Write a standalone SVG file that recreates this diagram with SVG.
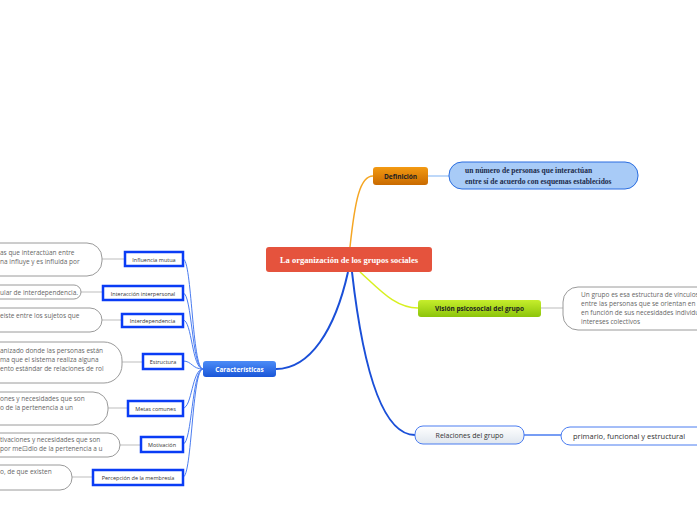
<svg xmlns="http://www.w3.org/2000/svg" width="697" height="520" viewBox="0 0 697 520">
<defs>
<linearGradient id="gOr" x1="0" y1="0" x2="0" y2="1"><stop offset="0" stop-color="#f39a12"/><stop offset="1" stop-color="#c96a00"/></linearGradient>
<linearGradient id="gBl" x1="0" y1="0" x2="0" y2="1"><stop offset="0" stop-color="#4c8cf7"/><stop offset="1" stop-color="#1a56d8"/></linearGradient>
<linearGradient id="gYg" x1="0" y1="0" x2="0" y2="1"><stop offset="0" stop-color="#c6ee2c"/><stop offset="1" stop-color="#8cc40a"/></linearGradient>
<linearGradient id="gRel" x1="0" y1="0" x2="0" y2="1"><stop offset="0" stop-color="#ffffff"/><stop offset="1" stop-color="#dfe6ee"/></linearGradient>
</defs>
<style>
.s{font-family:"Open Sans","Liberation Sans",sans-serif;font-size:6.5px;fill:#333}
.l{font-family:"Open Sans","Liberation Sans",sans-serif;font-size:6.5px;fill:#666}
.c{fill:#fff;stroke:#0a3cf5;stroke-width:2.5}
.p{fill:#fff;stroke:#9a9a9a;stroke-width:1}
.k{fill:none;stroke:#4a7cf0;stroke-width:1}
.g{fill:none;stroke:#c8c8c8;stroke-width:1.2}
</style>
<g id="connectors">
<path d="M350 247 C355 200 360 176 373 176" fill="none" stroke="#f5a623" stroke-width="1.5"/>
<path d="M360 272 C380 290 395 308 418 308" fill="none" stroke="#d8f020" stroke-width="1.5"/>
<path d="M352 272 C362 360 380 435 415 435" fill="none" stroke="#1a4fd8" stroke-width="2"/>
<path d="M348 272 C335 330 310 369 276 369" fill="none" stroke="#1a4fd8" stroke-width="2"/>
<path class="k" d="M203 369 C192 369 192 259 183 259"/>
<path class="k" d="M203 369 C192 369 192 293 183 293"/>
<path class="k" d="M203 369 C192 369 192 320 183 320"/>
<path class="k" d="M203 369 C192 369 192 361 183 361"/>
<path class="k" d="M203 369 C192 369 192 408 183 408"/>
<path class="k" d="M203 369 C192 369 192 444 183 444"/>
<path class="k" d="M203 369 C192 369 192 477 183 477"/>
<path d="M428 176 H449" stroke="#a8cbf7" stroke-width="1.5"/>
<path d="M541 308 H563" stroke="#bbb" stroke-width="1"/>
<path d="M524 435 H561" stroke="#4a7cf0" stroke-width="1.5"/>
<path class="g" d="M102 259 H125"/>
<path class="g" d="M81 292 H103"/>
<path class="g" d="M102 320 H122"/>
<path class="g" d="M122 362 H143"/>
<path class="g" d="M108 408 H128"/>
<path class="g" d="M120 445 H141"/>
<path class="g" d="M72 477 H93"/>
</g>
<g id="central"><rect x="266" y="247" width="166" height="25" rx="3" fill="#e5533d"/><text x="349" y="263" text-anchor="middle" font-family="Liberation Serif,serif" font-weight="bold" font-size="8.5" fill="#fff">La organización de los grupos sociales</text></g>
<g id="definicion"><rect x="373" y="167" width="55" height="18" rx="3" fill="url(#gOr)"/><text x="400.5" y="179" text-anchor="middle" class="s" font-weight="bold" fill="#222" style="fill:#222">Definición</text></g>
<g id="def-leaf"><rect x="449" y="162" width="189" height="27" rx="13" fill="#a8cbf7" stroke="#2a6de0"/><text font-family="Liberation Serif,serif" font-weight="bold" font-size="7.5" fill="#1b2a4a"><tspan x="465" y="173">un número de personas que interactúan</tspan><tspan x="465" y="184">entre sí de acuerdo con esquemas establecidos</tspan></text></g>
<g id="vision"><rect x="418" y="300" width="123" height="17" rx="3" fill="url(#gYg)"/><text x="479.5" y="311" text-anchor="middle" class="s" font-weight="bold" style="fill:#222">Visión psicosocial del grupo</text></g>
<g id="vision-leaf"><rect x="563" y="287" width="150" height="43" rx="15" class="p"/><text class="l" font-size="6"><tspan x="581" y="297">Un grupo es esa estructura de vínculos</tspan><tspan x="581" y="306">entre las personas que se orientan en c</tspan><tspan x="581" y="315">en función de sus necesidades individu</tspan><tspan x="581" y="324">intereses colectivos</tspan></text></g>
<g id="relaciones"><rect x="415" y="426" width="109" height="18" rx="8" fill="url(#gRel)" stroke="#4a7cf0"/><text x="469.5" y="438" text-anchor="middle" class="s" style="font-size:7px">Relaciones del grupo</text></g>
<g id="rel-leaf"><rect x="561" y="427" width="150" height="18" rx="9" fill="#fff" stroke="#4a7cf0"/><text x="573" y="439" class="s" style="font-size:7.5px">primario, funcional y estructural</text></g>
<g id="caracteristicas"><rect x="203" y="361" width="73" height="16" rx="3" fill="url(#gBl)"/><text x="239.5" y="372" text-anchor="middle" class="s" font-weight="bold" style="fill:#fff">Características</text></g>
<g id="influencia"><rect x="125" y="252" width="58" height="14" class="c"/><text x="154" y="261.5" text-anchor="middle" class="s" style="font-size:5.5px">Influencia mutua</text></g>
<g id="interaccion"><rect x="103" y="286" width="80" height="14" class="c"/><text x="143" y="295.5" text-anchor="middle" class="s" style="font-size:5.5px">Interacción interpersonal</text></g>
<g id="interdependencia"><rect x="122" y="314" width="61" height="13" class="c"/><text x="152.5" y="323" text-anchor="middle" class="s" style="font-size:5.5px">Interdependencia</text></g>
<g id="estructura"><rect x="143" y="354" width="40" height="15" class="c"/><text x="163" y="364" text-anchor="middle" class="s" style="font-size:5.5px">Estructura</text></g>
<g id="metas"><rect x="128" y="401" width="55" height="15" class="c"/><text x="155.5" y="411" text-anchor="middle" class="s" style="font-size:5.5px">Metas comunes</text></g>
<g id="motivacion"><rect x="141" y="437" width="42" height="15" class="c"/><text x="162" y="447" text-anchor="middle" class="s" style="font-size:5.5px">Motivación</text></g>
<g id="percepcion"><rect x="93" y="470" width="90" height="15" class="c"/><text x="138" y="480" text-anchor="middle" class="s" style="font-size:5.5px">Percepción de la membresía</text></g>
<g id="leaf1"><rect x="-60" y="243" width="162" height="33" rx="15" class="p"/><text class="l"><tspan x="0" y="255">as que interactúan entre</tspan><tspan x="0" y="264">na influye y es influida por</tspan></text></g>
<g id="leaf2"><rect x="-60" y="285" width="141" height="14" rx="7" class="p"/><text x="0" y="294.5" class="l">ular de interdependencia.</text></g>
<g id="leaf3"><rect x="-60" y="308" width="162" height="24" rx="12" class="p"/><text x="0" y="318" class="l">eiste entre los sujetos que</text></g>
<g id="leaf4"><rect x="-60" y="342" width="182" height="41" rx="18" class="p"/><text class="l"><tspan x="0" y="353">anizado donde las personas están</tspan><tspan x="0" y="362">ma que el sistema realiza alguna</tspan><tspan x="0" y="371">ento estándar de relaciones de rol</tspan></text></g>
<g id="leaf5"><rect x="-60" y="392" width="168" height="33" rx="15" class="p"/><text class="l"><tspan x="0" y="401">ones y necesidades que son</tspan><tspan x="0" y="410">o de la pertenencia a un</tspan></text></g>
<g id="leaf6"><rect x="-60" y="433" width="180" height="24" rx="12" class="p"/><text class="l"><tspan x="0" y="442">tivaciones y necesidades que son</tspan><tspan x="0" y="451">por me⊡dio de la pertenencia a u</tspan></text></g>
<g id="leaf7"><rect x="-60" y="465" width="132" height="25" rx="12" class="p"/><text x="0" y="474" class="l">o, de que existen</text></g>
</svg>
